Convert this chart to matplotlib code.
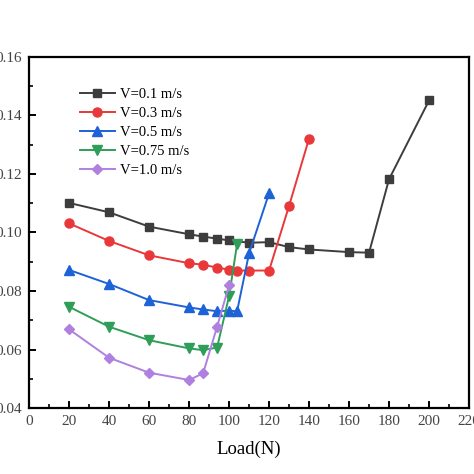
import matplotlib
matplotlib.use('Agg')
import matplotlib.pyplot as plt
from matplotlib.ticker import MultipleLocator

plt.rcParams['font.family'] = ['Liberation Serif', 'DejaVu Serif']

# friction coefficient vs load, one list per sliding speed
load_01 = [20, 40, 60, 80, 87, 94, 100, 110, 120, 130, 140, 160, 170, 180, 200]
cof_01 = [0.1101, 0.1069, 0.1020, 0.0994, 0.0986, 0.0979, 0.0973, 0.0965, 0.0967,
          0.0950, 0.0942, 0.0933, 0.0931, 0.1182, 0.1451]

load_03 = [20, 40, 60, 80, 87, 94, 100, 104, 110, 120, 130, 140]
cof_03 = [0.1031, 0.0971, 0.0922, 0.0895, 0.0890, 0.0880, 0.0873, 0.0870, 0.0870,
          0.0870, 0.1091, 0.1321]

load_05 = [20, 40, 60, 80, 87, 94, 100, 104, 110, 120]
cof_05 = [0.0872, 0.0824, 0.0769, 0.0744, 0.0737, 0.0731, 0.0733, 0.0731, 0.0929, 0.1134]

load_075 = [20, 40, 60, 80, 87, 94, 100, 104]
cof_075 = [0.0746, 0.0678, 0.0632, 0.0604, 0.0598, 0.0607, 0.0783, 0.0961]

load_10 = [20, 40, 60, 80, 87, 94, 100]
cof_10 = [0.0669, 0.0572, 0.0521, 0.0496, 0.0519, 0.0678, 0.0820]

SERIES = [
    (load_01, cof_01, 'V=0.1 m/s', '#3d3d3d', 's', 5.5),
    (load_03, cof_03, 'V=0.3 m/s', '#e8383a', 'o', 6.5),
    (load_05, cof_05, 'V=0.5 m/s', '#1e62d8', '^', 7.0),
    (load_075, cof_075, 'V=0.75 m/s', '#2e9e58', 'v', 7.0),
    (load_10, cof_10, 'V=1.0 m/s', '#b080e0', 'D', 5.2),
]

fig = plt.figure(figsize=(4.74, 4.74), dpi=100)
ax = fig.add_axes([0.0615, 0.139, 0.928, 0.741])

for x, y, label, color, marker, ms in SERIES:
    ax.plot(x, y, color=color, marker=marker, markersize=ms, linewidth=1.4,
            label=label)

ax.set_xlim(0, 220)
ax.set_ylim(0.04, 0.16)
ax.xaxis.set_major_locator(MultipleLocator(20))
ax.xaxis.set_minor_locator(MultipleLocator(10))
ax.yaxis.set_major_locator(MultipleLocator(0.02))
ax.yaxis.set_minor_locator(MultipleLocator(0.01))
ax.yaxis.set_major_formatter(lambda v, pos: f'{v:.2f}')

for s in ax.spines.values():
    s.set_linewidth(1.6)
ax.tick_params(which='both', direction='in', top=False, right=False,
               labelsize=11, colors='black', labelcolor='#444444')
ax.tick_params(which='major', length=5, width=1.4, pad=5)
ax.tick_params(which='minor', length=3, width=1.2)

ax.set_xlabel('Load(N)', fontsize=13.5, labelpad=9)

ax.legend(loc='upper left', bbox_to_anchor=(0.085, 0.95), frameon=False,
          fontsize=10.5, handlelength=2.4, labelspacing=0.4, handletextpad=0.4)

fig.savefig('out.png', dpi=100)
